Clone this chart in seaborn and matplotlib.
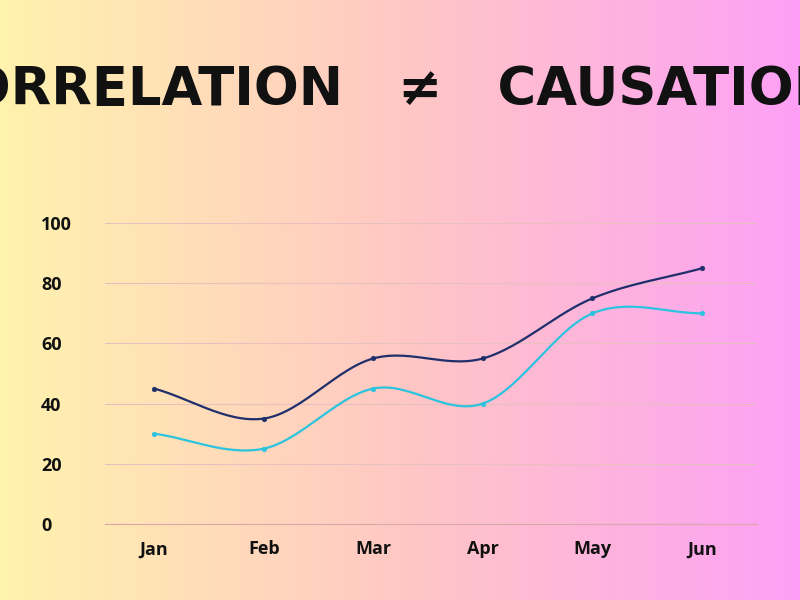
import numpy as np
import matplotlib
matplotlib.use("Agg")
import matplotlib.pyplot as plt
import seaborn as sns
from matplotlib.colors import LinearSegmentedColormap

months = ["Jan", "Feb", "Mar", "Apr", "May", "Jun"]
series_a = [45, 35, 55, 55, 75, 85]
series_b = [30, 25, 45, 40, 70, 70]


def smooth(y, n=30):
    # cubic Hermite curve through the points, for drawing only
    y = np.asarray(y, float)
    m = np.gradient(y)
    xs, ys = [], []
    for i in range(len(y) - 1):
        t = np.linspace(0, 1, n, endpoint=False)
        h00 = 2*t**3 - 3*t**2 + 1
        h10 = t**3 - 2*t**2 + t
        h01 = -2*t**3 + 3*t**2
        h11 = t**3 - t**2
        xs.append(i + t)
        ys.append(h00*y[i] + h10*m[i] + h01*y[i+1] + h11*m[i+1])
    xs.append([len(y) - 1])
    ys.append([y[-1]])
    return np.concatenate(xs), np.concatenate(ys)


fig = plt.figure(figsize=(8, 6), dpi=100)
bg = fig.add_axes([0, 0, 1, 1])
cmap = LinearSegmentedColormap.from_list("bg", ["#fff3ad", "#ffc8c4", "#fda0f6"])
bg.imshow(np.linspace(0, 1, 256)[None, :], aspect="auto", cmap=cmap, extent=[0, 1, 0, 1])
bg.axis("off")

fig.text(0.478, 0.85, "CORRELATION   \u2260   CAUSATION", ha="center", va="center",
         fontsize=38, fontweight="bold",
         family=["Liberation Sans Narrow", "DejaVu Sans"], color="#111111")

ax = fig.add_axes([0.131, 0.127, 0.815, 0.501])
ax.patch.set_alpha(0)
for s, c in [(series_a, "#1f2f6b"), (series_b, "#2cc3df")]:
    xs, ys = smooth(s)
    sns.lineplot(x=xs, y=ys, ax=ax, color=c, linewidth=1.6, sort=False)
    sns.scatterplot(x=np.arange(len(s)), y=s, ax=ax, color=c, s=12, edgecolor=c, zorder=3)

ax.set_xlim(-0.45, 5.5)
ax.set_ylim(0, 100)
ax.set_yticks([0, 20, 40, 60, 80, 100])
ax.set_xticks(range(len(months)))
ax.set_xticklabels(months)
ax.grid(axis="y", color="#e8c0c0", linewidth=0.8)
for sp in ["top", "right", "left"]:
    ax.spines[sp].set_visible(False)
ax.spines["bottom"].set_color("#d9a9a9")
ax.tick_params(length=0, labelsize=13)
ax.tick_params(axis="x", pad=12)
ax.tick_params(axis="y", pad=46)
for lab in ax.get_xticklabels() + ax.get_yticklabels():
    lab.set_fontweight("bold")
    lab.set_family(["Open Sans", "DejaVu Sans"])
    lab.set_color("#111111")
for lab in ax.get_yticklabels():
    lab.set_ha("left")
ax.set_xlabel("")
ax.set_ylabel("")

fig.savefig("out.png", dpi=100)
